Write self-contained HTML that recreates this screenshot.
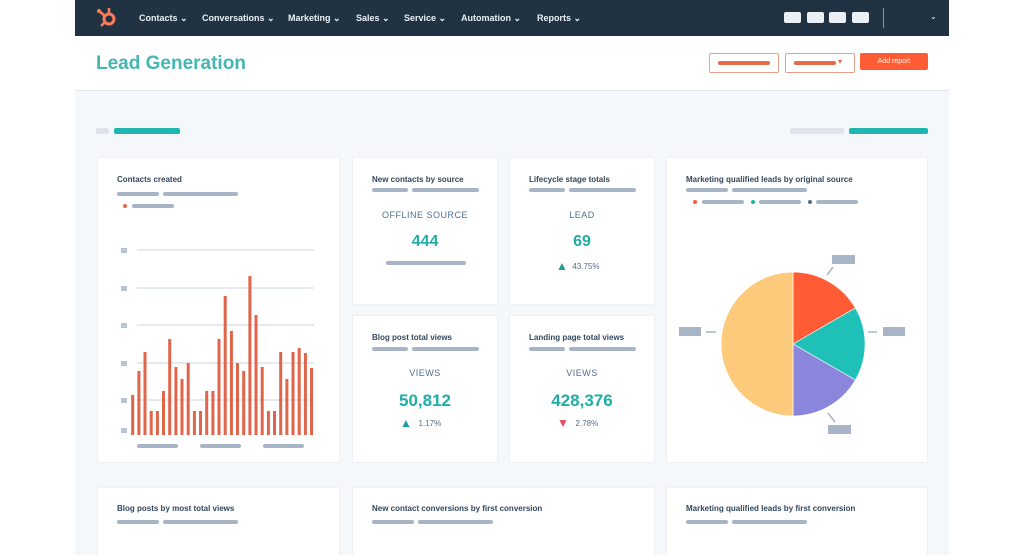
<!DOCTYPE html>
<html><head><meta charset="utf-8"><style>
*{margin:0;padding:0;box-sizing:border-box}
html,body{width:1024px;height:555px;overflow:hidden}
body{background:#fff;position:relative;font-family:"Liberation Sans",sans-serif}
.a{position:absolute}
.nav{left:75px;top:0;width:874px;height:36px;background:#213343}
.navt{color:#eaf0f6;font-size:9px;font-weight:bold;top:13px}
.main{left:75px;top:90px;width:874px;height:465px;background:#f5f8fa;border-top:1px solid #dfe3eb}
.card{background:#fff;border:1px solid #eef1f5;position:absolute}
.t{position:absolute;font-size:8px;font-weight:bold;color:#33475b}
.g{position:absolute;height:4px;background:#a7b5c7;border-radius:2px}
.lab{position:absolute;width:100%;text-align:center;font-size:9px;color:#516f90;letter-spacing:.5px}
.big{position:absolute;width:100%;text-align:center;font-size:16px;font-weight:bold;color:#1fada8}
.pct{position:absolute;font-size:8px;color:#516f90}
.tri{font-size:12px;vertical-align:-1px}
</style></head><body>
<div class="a nav"></div>
<svg class="a" style="left:96px;top:6px" width="22" height="24" viewBox="0 0 22 24"><circle cx="13" cy="13" r="5" fill="none" stroke="#ff7a59" stroke-width="3"/><line x1="13" y1="8" x2="13" y2="2" stroke="#ff7a59" stroke-width="2.5"/><line x1="9" y1="10" x2="3" y2="5" stroke="#ff7a59" stroke-width="2.5"/><line x1="9" y1="16" x2="5" y2="20" stroke="#ff7a59" stroke-width="2.5"/><circle cx="3" cy="5" r="2" fill="#ff7a59"/></svg>
<div class="a navt" style="left:139px">Contacts ⌄</div>
<div class="a navt" style="left:202px">Conversations ⌄</div>
<div class="a navt" style="left:288px">Marketing ⌄</div>
<div class="a navt" style="left:356px">Sales ⌄</div>
<div class="a navt" style="left:404px">Service ⌄</div>
<div class="a navt" style="left:461px">Automation ⌄</div>
<div class="a navt" style="left:537px">Reports ⌄</div>
<div class="a" style="left:784px;top:12px;width:17px;height:11px;background:#eaf0f6;border-radius:2px"></div>
<div class="a" style="left:807px;top:12px;width:17px;height:11px;background:#eaf0f6;border-radius:2px"></div>
<div class="a" style="left:829px;top:12px;width:17px;height:11px;background:#eaf0f6;border-radius:2px"></div>
<div class="a" style="left:852px;top:12px;width:17px;height:11px;background:#eaf0f6;border-radius:2px"></div>
<div class="a" style="left:883px;top:8px;width:1px;height:20px;background:#7c98b6"></div>
<div class="a" style="left:930px;top:12px;color:#fff;font-size:8px">⌄</div>
<div class="a" style="left:96px;top:53px;font-size:19px;font-weight:bold;color:#45b6b1">Lead Generation</div>
<div class="a" style="left:709px;top:53px;width:70px;height:20px;border:1px solid #e8a08a;border-radius:2px"><div class="g" style="left:8px;top:7px;width:52px;background:#e8694a"></div></div>
<div class="a" style="left:785px;top:53px;width:70px;height:20px;border:1px solid #e8a08a;border-radius:2px"><div class="g" style="left:8px;top:7px;width:42px;background:#e8694a"></div><div class="a" style="left:52px;top:3px;font-size:8px;color:#e8694a">▾</div></div>
<div class="a" style="left:860px;top:53px;width:68px;height:17px;background:#ff5c35;border-radius:2px;color:#fff;font-size:7px;text-align:center;line-height:17px">Add report</div>
<div class="a main"></div>
<div class="a" style="left:96px;top:128px;width:13px;height:6px;background:#dfe3eb;border-radius:2px"></div>
<div class="a" style="left:114px;top:128px;width:66px;height:6px;background:#1fb5b0;border-radius:2px"></div>
<div class="a" style="left:790px;top:128px;width:54px;height:6px;background:#dfe3eb;border-radius:2px"></div>
<div class="a" style="left:849px;top:128px;width:79px;height:6px;background:#1fb5b0;border-radius:2px"></div>

<div class="card" style="left:97px;top:157px;width:243px;height:306px">
<div class="t" style="left:19px;top:17px">Contacts created</div>
<div class="g" style="left:19px;top:34px;width:42px"></div><div class="g" style="left:65px;top:34px;width:75px"></div>
<div class="a" style="left:25px;top:46px;width:4px;height:4px;border-radius:50%;background:#e8694a"></div>
<div class="g" style="left:34px;top:46px;width:42px"></div>
</div>
<svg class="a" style="left:0;top:0" width="1024" height="555">
<g stroke="#cbd6e2" stroke-width="1">
<line x1="137" y1="250" x2="314" y2="250"/><line x1="137" y1="288" x2="314" y2="288"/><line x1="137" y1="325" x2="314" y2="325"/><line x1="137" y1="363" x2="314" y2="363"/><line x1="137" y1="400" x2="314" y2="400"/>
</g>
<g fill="#b7c4d3"><rect x="121" y="248" width="6" height="5"/><rect x="121" y="286" width="6" height="5"/><rect x="121" y="323" width="6" height="5"/><rect x="121" y="361" width="6" height="5"/><rect x="121" y="398" width="6" height="5"/><rect x="121" y="428" width="6" height="5"/></g>
<g fill="#a7b5c7"><rect x="137" y="444" width="41" height="4" rx="2"/><rect x="200" y="444" width="41" height="4" rx="2"/><rect x="263" y="444" width="41" height="4" rx="2"/></g>
</svg>

<div class="card" style="left:352px;top:157px;width:146px;height:148px">
<div class="t" style="left:19px;top:17px">New contacts by source</div>
<div class="g" style="left:19px;top:30px;width:36px"></div><div class="g" style="left:59px;top:30px;width:67px"></div>
<div class="lab" style="top:52px">OFFLINE SOURCE</div>
<div class="big" style="top:75px">444</div>
<div class="g" style="left:33px;top:103px;width:80px"></div>
</div>
<div class="card" style="left:509px;top:157px;width:146px;height:148px">
<div class="t" style="left:19px;top:17px">Lifecycle stage totals</div>
<div class="g" style="left:19px;top:30px;width:36px"></div><div class="g" style="left:59px;top:30px;width:67px"></div>
<div class="lab" style="top:52px">LEAD</div>
<div class="big" style="top:75px">69</div>
<div class="pct" style="left:46px;top:101px"><span class="tri" style="color:#1f9f9a">▲</span>&nbsp; 43.75%</div>
</div>
<div class="card" style="left:352px;top:315px;width:146px;height:148px">
<div class="t" style="left:19px;top:17px">Blog post total views</div>
<div class="g" style="left:19px;top:31px;width:36px"></div><div class="g" style="left:59px;top:31px;width:67px"></div>
<div class="lab" style="top:52px">VIEWS</div>
<div class="big" style="top:75px;font-size:17px">50,812</div>
<div class="pct" style="left:47px;top:100px"><span class="tri" style="color:#1f9f9a">▲</span>&nbsp;&nbsp; 1.17%</div>
</div>
<div class="card" style="left:509px;top:315px;width:146px;height:148px">
<div class="t" style="left:19px;top:17px">Landing page total views</div>
<div class="g" style="left:19px;top:31px;width:36px"></div><div class="g" style="left:59px;top:31px;width:67px"></div>
<div class="lab" style="top:52px">VIEWS</div>
<div class="big" style="top:75px;font-size:17px">428,376</div>
<div class="pct" style="left:47px;top:100px"><span class="tri" style="color:#e84860">▼</span>&nbsp;&nbsp; 2.78%</div>
</div>

<div class="card" style="left:666px;top:157px;width:262px;height:306px">
<div class="t" style="left:19px;top:17px">Marketing qualified leads by original source</div>
<div class="g" style="left:19px;top:30px;width:42px"></div><div class="g" style="left:65px;top:30px;width:75px"></div>
<div class="a" style="left:26px;top:42px;width:4px;height:4px;border-radius:50%;background:#ff5c35"></div><div class="g" style="left:35px;top:42px;width:42px"></div>
<div class="a" style="left:84px;top:42px;width:4px;height:4px;border-radius:50%;background:#1fb5b0"></div><div class="g" style="left:92px;top:42px;width:42px"></div>
<div class="a" style="left:141px;top:42px;width:4px;height:4px;border-radius:50%;background:#516f90"></div><div class="g" style="left:149px;top:42px;width:42px"></div>
</div>
<svg class="a" style="left:0;top:0" width="1024" height="555">
<path d="M793,344 L793,272 A72,72 0 0 1 855.4,308 Z" fill="#ff5c35" stroke="#fff" stroke-width="0.7"/>
<path d="M793,344 L855.4,308 A72,72 0 0 1 855.4,380 Z" fill="#1fc0b8" stroke="#fff" stroke-width="0.7"/>
<path d="M793,344 L855.4,380 A72,72 0 0 1 793,416 Z" fill="#8a86dc" stroke="#fff" stroke-width="0.7"/>
<path d="M793,344 L793,416 A72,72 0 0 1 793,272 Z" fill="#fdc97a" stroke="#fff" stroke-width="0.7"/>
<g fill="#a7b5c7"><rect x="832" y="255" width="23" height="9"/><rect x="883" y="327" width="22" height="9"/><rect x="679" y="327" width="22" height="9"/><rect x="828" y="425" width="23" height="9"/></g>
<g stroke="#a7b5c7" stroke-width="1.5"><line x1="833" y1="267" x2="827" y2="275"/><line x1="868" y1="332" x2="877" y2="332"/><line x1="706" y1="332" x2="716" y2="332"/><line x1="828" y1="413" x2="835" y2="422"/></g>
</svg>

<div class="card" style="left:97px;top:487px;width:243px;height:68px;border-bottom:none">
<div class="t" style="left:19px;top:16px">Blog posts by most total views</div>
<div class="g" style="left:19px;top:32px;width:42px"></div><div class="g" style="left:65px;top:32px;width:75px"></div></div>
<div class="card" style="left:352px;top:487px;width:303px;height:68px;border-bottom:none">
<div class="t" style="left:19px;top:16px">New contact conversions by first conversion</div>
<div class="g" style="left:19px;top:32px;width:42px"></div><div class="g" style="left:65px;top:32px;width:75px"></div></div>
<div class="card" style="left:666px;top:487px;width:262px;height:68px;border-bottom:none">
<div class="t" style="left:19px;top:16px">Marketing qualified leads by first conversion</div>
<div class="g" style="left:19px;top:32px;width:42px"></div><div class="g" style="left:65px;top:32px;width:75px"></div></div>

<svg class="a" style="left:0;top:0" width="1024" height="555">
<g fill="#e0654a">
<rect x="131.2" y="395" width="3" height="40"/><rect x="137.4" y="371" width="3" height="64"/><rect x="143.5" y="352" width="3" height="83"/><rect x="149.7" y="411" width="3" height="24"/><rect x="155.9" y="411" width="3" height="24"/><rect x="162.0" y="391" width="3" height="44"/><rect x="168.2" y="339" width="3" height="96"/><rect x="174.4" y="367" width="3" height="68"/><rect x="180.5" y="379" width="3" height="56"/><rect x="186.7" y="363" width="3" height="72"/><rect x="192.9" y="411" width="3" height="24"/><rect x="199.0" y="411" width="3" height="24"/><rect x="205.2" y="391" width="3" height="44"/><rect x="211.4" y="391" width="3" height="44"/><rect x="217.5" y="339" width="3" height="96"/><rect x="223.7" y="296" width="3" height="139"/><rect x="229.9" y="331" width="3" height="104"/><rect x="236.0" y="363" width="3" height="72"/><rect x="242.2" y="371" width="3" height="64"/><rect x="248.4" y="276" width="3" height="159"/><rect x="254.5" y="315" width="3" height="120"/><rect x="260.7" y="367" width="3" height="68"/><rect x="266.9" y="411" width="3" height="24"/><rect x="273.0" y="411" width="3" height="24"/><rect x="279.2" y="352" width="3" height="83"/><rect x="285.4" y="379" width="3" height="56"/><rect x="291.5" y="352" width="3" height="83"/><rect x="297.7" y="348" width="3" height="87"/><rect x="303.9" y="353" width="3" height="82"/><rect x="310.0" y="368" width="3" height="67"/>
</g></svg>
</body></html>
